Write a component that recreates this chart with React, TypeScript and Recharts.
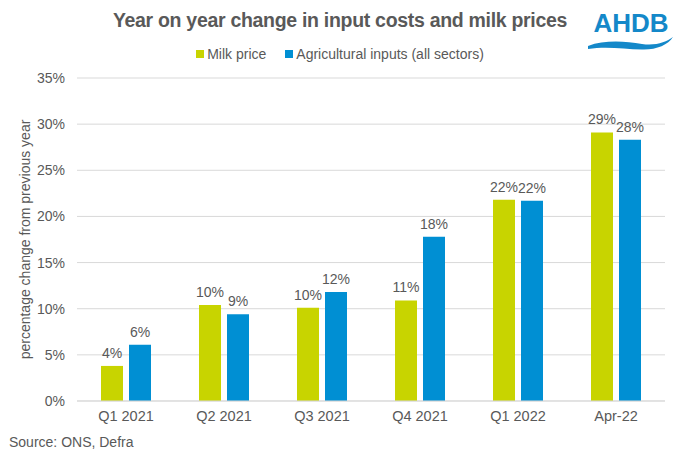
import { BarChart, Bar, XAxis, YAxis, CartesianGrid, LabelList } from "recharts";

const categories = ["Q1 2021", "Q2 2021", "Q3 2021", "Q4 2021", "Q1 2022", "Apr-22"];
const milkPrice = [3.8, 10.4, 10.1, 10.9, 21.8, 29.1];
const agriInputs = [6.1, 9.4, 11.8, 17.8, 21.7, 28.3];
const yTicks = [0, 5, 10, 15, 20, 25, 30, 35];

const data = categories.map((name, i) => ({
  name,
  milk: milkPrice[i],
  agri: agriInputs[i],
}));

const MILK = "#c8d400";
const AGRI = "#008fd3";
const TEXT = "#595959";
const FONT = "'Liberation Sans', Arial, sans-serif";

const pct = (v: any) => `${Math.round(Number(v))}%`;

function Logo() {
  return (
    <svg width={92} height={56} style={{ position: "absolute", left: 584, top: 4 }}>
      <text x={47} y={28} textAnchor="middle" fontFamily={FONT} fontWeight="bold" fontSize={26} fill="#1488c9">
        AHDB
      </text>
      <path
        d="M4 42 C 20 36, 40 37, 58 40 C 72 42, 82 38, 89 33 C 84 41, 72 46, 58 45.5 C 40 45, 22 42, 4 45 Z"
        fill="#1488c9"
      />
    </svg>
  );
}

export default function App() {
  return (
    <div
      style={{
        position: "absolute",
        left: 0,
        top: 0,
        width: 680,
        height: 454,
        background: "#fff",
        fontFamily: FONT,
        color: TEXT,
      }}
    >
      <div
        style={{
          position: "absolute",
          left: 0,
          width: 680,
          top: 9,
          textAlign: "center",
          fontWeight: "bold",
          fontSize: 19.5,
          letterSpacing: -0.3,
        }}
      >
        Year on year change in input costs and milk prices
      </div>
      <Logo />
      <div
        style={{
          position: "absolute",
          left: 0,
          width: 680,
          top: 46,
          display: "flex",
          justifyContent: "center",
          alignItems: "center",
          fontSize: 14,
        }}
      >
        <span style={{ width: 8, height: 8, background: MILK, marginRight: 3 }} />
        <span style={{ marginRight: 19 }}>Milk price</span>
        <span style={{ width: 8, height: 8, background: AGRI, marginRight: 3 }} />
        <span>Agricultural inputs (all sectors)</span>
      </div>

      <div style={{ position: "absolute", left: 0, top: 0 }}>
        <BarChart
          width={680}
          height={454}
          data={data}
          margin={{ top: 78, right: 15, bottom: 23, left: 0 }}
          barSize={22}
          barGap={6}
        >
          <CartesianGrid vertical={false} stroke="#d9d9d9" />
          <XAxis
            dataKey="name"
            axisLine={{ stroke: "#d9d9d9" }}
            tickLine={false}
            tickMargin={4}
            height={30}
            tick={{ fill: TEXT, fontSize: 14.5, fontFamily: FONT }}
          />
          <YAxis
            width={77}
            domain={[0, 35]}
            ticks={yTicks}
            tickFormatter={pct}
            axisLine={false}
            tickLine={false}
            tickMargin={6}
            tick={{ fill: TEXT, fontSize: 14, fontFamily: FONT }}
            label={{
              content: ({ viewBox }: any) => {
                const cx = viewBox.x + 30;
                const cy = viewBox.y + viewBox.height / 2;
                return (
                  <text
                    x={cx}
                    y={cy}
                    transform={`rotate(-90 ${cx} ${cy})`}
                    textAnchor="middle"
                    fill={TEXT}
                    fontSize={14}
                    fontFamily={FONT}
                  >
                    percentage change from previous year
                  </text>
                );
              },
            }}
          />
          <Bar dataKey="milk" fill={MILK} isAnimationActive={false}>
            <LabelList
              dataKey="milk"
              position="top"
              offset={8}
              formatter={pct}
              style={{ fill: TEXT, fontSize: 14, fontFamily: FONT }}
            />
          </Bar>
          <Bar dataKey="agri" fill={AGRI} isAnimationActive={false}>
            <LabelList
              dataKey="agri"
              position="top"
              offset={8}
              formatter={pct}
              style={{ fill: TEXT, fontSize: 14, fontFamily: FONT }}
            />
          </Bar>
        </BarChart>
      </div>

      <div style={{ position: "absolute", left: 9, top: 434, fontSize: 14 }}>Source: ONS, Defra</div>
    </div>
  );
}
